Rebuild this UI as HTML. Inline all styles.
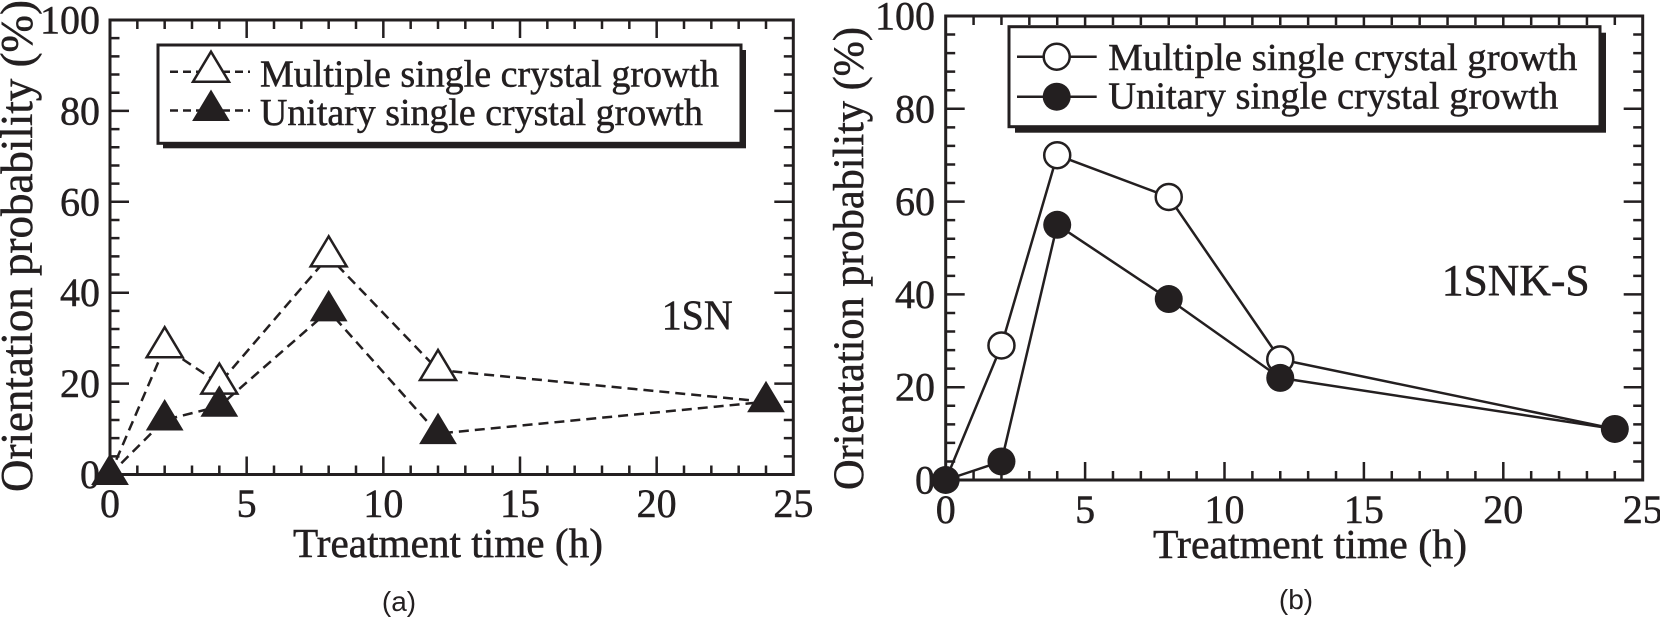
<!DOCTYPE html>
<html>
<head>
<meta charset="utf-8">
<style>
  html,body{margin:0;padding:0;background:#fff;}
  svg{display:block;}
  .serif{font-family:"Liberation Serif","Times New Roman",serif;fill:#231f20;stroke:#231f20;stroke-width:0.5;}
  .sans{font-family:"Liberation Sans",Arial,sans-serif;fill:#231f20;}
</style>
</head>
<body>
<svg width="1660" height="621" viewBox="0 0 1660 621" xmlns="http://www.w3.org/2000/svg">
<defs>
  <polygon id="tri" points="0,-20 -18,10 18,10"/>
</defs>
<rect x="0" y="0" width="1660" height="621" fill="#fff"/>

<!-- ================= LEFT CHART ================= -->
<g stroke="#231f20" fill="none" stroke-width="2.5">
  <path d="
  M137.33 474.5V465.5 M164.67 474.5V465.5 M192 474.5V465.5 M219.33 474.5V465.5 M246.67 474.5V456.5
  M274 474.5V465.5 M301.33 474.5V465.5 M328.67 474.5V465.5 M356 474.5V465.5 M383.33 474.5V456.5
  M410.67 474.5V465.5 M438 474.5V465.5 M465.33 474.5V465.5 M492.67 474.5V465.5 M520 474.5V456.5
  M547.33 474.5V465.5 M574.67 474.5V465.5 M602 474.5V465.5 M629.33 474.5V465.5 M656.67 474.5V456.5
  M684 474.5V465.5 M711.33 474.5V465.5 M738.67 474.5V465.5 M766 474.5V465.5
  M137.33 20V29 M164.67 20V29 M192 20V29 M219.33 20V29 M246.67 20V38
  M274 20V29 M301.33 20V29 M328.67 20V29 M356 20V29 M383.33 20V38
  M410.67 20V29 M438 20V29 M465.33 20V29 M492.67 20V29 M520 20V38
  M547.33 20V29 M574.67 20V29 M602 20V29 M629.33 20V29 M656.67 20V38
  M684 20V29 M711.33 20V29 M738.67 20V29 M766 20V29
  "/>
  <path d="
  M110 456.32H119.5 M110 438.14H119.5 M110 419.96H119.5 M110 401.78H119.5 M110 383.6H129
  M110 365.42H119.5 M110 347.24H119.5 M110 329.06H119.5 M110 310.88H119.5 M110 292.7H129
  M110 274.52H119.5 M110 256.34H119.5 M110 238.16H119.5 M110 219.98H119.5 M110 201.8H129
  M110 183.62H119.5 M110 165.44H119.5 M110 147.26H119.5 M110 129.08H119.5 M110 110.9H129
  M110 92.72H119.5 M110 74.54H119.5 M110 56.36H119.5 M110 38.18H119.5
  M793.3 456.32H783.8 M793.3 438.14H783.8 M793.3 419.96H783.8 M793.3 401.78H783.8 M793.3 383.6H774.3
  M793.3 365.42H783.8 M793.3 347.24H783.8 M793.3 329.06H783.8 M793.3 310.88H783.8 M793.3 292.7H774.3
  M793.3 274.52H783.8 M793.3 256.34H783.8 M793.3 238.16H783.8 M793.3 219.98H783.8 M793.3 201.8H774.3
  M793.3 183.62H783.8 M793.3 165.44H783.8 M793.3 147.26H783.8 M793.3 129.08H783.8 M793.3 110.9H774.3
  M793.3 92.72H783.8 M793.3 74.54H783.8 M793.3 56.36H783.8 M793.3 38.18H783.8
  "/>
  <rect x="110" y="20" width="683.3" height="454.5" stroke-width="3"/>
</g>

<g stroke="#231f20" fill="none" stroke-width="2.5" stroke-dasharray="10,6">
  <polyline points="110,474.5 164.67,347.24 219.33,383.6 328.67,256.34 438,369.97 766,401.78"/>
  <polyline points="110,474.5 164.67,419.96 219.33,406.3 328.67,310.88 438,433.6 766,401.78"/>
</g>
<g fill="#fff" stroke="#231f20" stroke-width="2.5">
  <use href="#tri" x="164.67" y="347.24"/>
  <use href="#tri" x="219.33" y="383.6"/>
  <use href="#tri" x="328.67" y="256.34"/>
  <use href="#tri" x="438" y="369.97"/>
</g>
<g fill="#231f20" stroke="#231f20" stroke-width="1">
  <use href="#tri" x="110" y="474.5"/>
  <use href="#tri" x="164.67" y="419.96"/>
  <use href="#tri" x="219.33" y="406.3"/>
  <use href="#tri" x="328.67" y="310.88"/>
  <use href="#tri" x="438" y="433.6"/>
  <use href="#tri" x="766" y="401.78"/>
</g>

<rect x="163" y="50" width="583" height="98.3" fill="#231f20"/>
<rect x="158" y="45" width="583" height="98.3" fill="#fff" stroke="#231f20" stroke-width="3"/>
<g stroke="#231f20" stroke-width="2.5" stroke-dasharray="8,5" fill="none">
  <path d="M170 71.7H250"/>
  <path d="M170 110.5H250"/>
</g>
<use href="#tri" x="211" y="71.7" fill="#fff" stroke="#231f20" stroke-width="2.5"/>
<use href="#tri" x="211" y="110.5" fill="#231f20" stroke="#231f20" stroke-width="1"/>
<text class="serif" x="260" y="86.7" font-size="38" textLength="459" lengthAdjust="spacingAndGlyphs">Multiple single crystal growth</text>
<text class="serif" x="260" y="124.8" font-size="38" textLength="443" lengthAdjust="spacingAndGlyphs">Unitary single crystal growth</text>

<text class="serif" x="661.7" y="329.5" font-size="42" textLength="71" lengthAdjust="spacingAndGlyphs">1SN</text>
<g class="serif" font-size="40" text-anchor="end">
  <text x="100" y="488">0</text>
  <text x="100" y="397.1">20</text>
  <text x="100" y="306.2">40</text>
  <text x="100" y="215.3">60</text>
  <text x="100" y="124.4">80</text>
  <text x="100" y="33.5">100</text>
</g>
<g class="serif" font-size="40" text-anchor="middle">
  <text x="110" y="517">0</text>
  <text x="246.67" y="517">5</text>
  <text x="383.33" y="517">10</text>
  <text x="520" y="517">15</text>
  <text x="656.67" y="517">20</text>
  <text x="793.33" y="517">25</text>
</g>
<text class="serif" x="448" y="557" font-size="41" text-anchor="middle" textLength="310" lengthAdjust="spacingAndGlyphs">Treatment time (h)</text>
<text class="serif" transform="translate(32,246) rotate(-90)" x="0" y="0" font-size="45" text-anchor="middle" textLength="492" lengthAdjust="spacingAndGlyphs">Orientation probability (%)</text>
<text class="sans" x="399" y="611" font-size="28" text-anchor="middle">(a)</text>

<!-- ================= RIGHT CHART ================= -->
<g stroke="#231f20" fill="none" stroke-width="2.5">
  <path d="
  M973.58 480V471 M1001.46 480V471 M1029.34 480V471 M1057.22 480V471 M1085.1 480V462
  M1112.98 480V471 M1140.86 480V471 M1168.74 480V471 M1196.62 480V471 M1224.5 480V462
  M1252.38 480V471 M1280.26 480V471 M1308.14 480V471 M1336.02 480V471 M1363.9 480V462
  M1391.78 480V471 M1419.66 480V471 M1447.54 480V471 M1475.42 480V471 M1503.3 480V462
  M1531.18 480V471 M1559.06 480V471 M1586.94 480V471 M1614.82 480V471
  M973.58 16V25 M1001.46 16V25 M1029.34 16V25 M1057.22 16V25 M1085.1 16V34
  M1112.98 16V25 M1140.86 16V25 M1168.74 16V25 M1196.62 16V25 M1224.5 16V34
  M1252.38 16V25 M1280.26 16V25 M1308.14 16V25 M1336.02 16V25 M1363.9 16V34
  M1391.78 16V25 M1419.66 16V25 M1447.54 16V25 M1475.42 16V25 M1503.3 16V34
  M1531.18 16V25 M1559.06 16V25 M1586.94 16V25 M1614.82 16V25
  "/>
  <path d="
  M945.7 461.44H955.2 M945.7 442.88H955.2 M945.7 424.32H955.2 M945.7 405.76H955.2 M945.7 387.2H964.7
  M945.7 368.64H955.2 M945.7 350.08H955.2 M945.7 331.52H955.2 M945.7 312.96H955.2 M945.7 294.4H964.7
  M945.7 275.84H955.2 M945.7 257.28H955.2 M945.7 238.72H955.2 M945.7 220.16H955.2 M945.7 201.6H964.7
  M945.7 183.04H955.2 M945.7 164.48H955.2 M945.7 145.92H955.2 M945.7 127.36H955.2 M945.7 108.8H964.7
  M945.7 90.24H955.2 M945.7 71.68H955.2 M945.7 53.12H955.2 M945.7 34.56H955.2
  M1642.7 461.44H1633.2 M1642.7 442.88H1633.2 M1642.7 424.32H1633.2 M1642.7 405.76H1633.2 M1642.7 387.2H1623.7
  M1642.7 368.64H1633.2 M1642.7 350.08H1633.2 M1642.7 331.52H1633.2 M1642.7 312.96H1633.2 M1642.7 294.4H1623.7
  M1642.7 275.84H1633.2 M1642.7 257.28H1633.2 M1642.7 238.72H1633.2 M1642.7 220.16H1633.2 M1642.7 201.6H1623.7
  M1642.7 183.04H1633.2 M1642.7 164.48H1633.2 M1642.7 145.92H1633.2 M1642.7 127.36H1633.2 M1642.7 108.8H1623.7
  M1642.7 90.24H1633.2 M1642.7 71.68H1633.2 M1642.7 53.12H1633.2 M1642.7 34.56H1633.2
  "/>
  <rect x="945.7" y="16" width="697" height="464" stroke-width="3"/>
</g>

<g stroke="#231f20" fill="none" stroke-width="2.5">
  <polyline points="945.7,480 1001.46,345.44 1057.22,155.2 1168.74,196.96 1280.26,359.36 1614.82,428.96"/>
  <polyline points="945.7,480 1001.46,461.44 1057.22,224.8 1168.74,299.04 1280.26,377.92 1614.82,428.96"/>
</g>
<g fill="#fff" stroke="#231f20" stroke-width="2.5">
  <circle cx="1001.46" cy="345.44" r="13"/>
  <circle cx="1057.22" cy="155.2" r="13"/>
  <circle cx="1168.74" cy="196.96" r="13"/>
  <circle cx="1280.26" cy="359.36" r="13"/>
</g>
<g fill="#231f20">
  <circle cx="945.7" cy="480" r="14"/>
  <circle cx="1001.46" cy="461.44" r="14"/>
  <circle cx="1057.22" cy="224.8" r="14"/>
  <circle cx="1168.74" cy="299.04" r="14"/>
  <circle cx="1280.26" cy="377.92" r="14"/>
  <circle cx="1614.82" cy="428.96" r="14"/>
</g>

<rect x="1015" y="32.7" width="591" height="100" fill="#231f20"/>
<rect x="1009" y="26.7" width="591" height="100" fill="#fff" stroke="#231f20" stroke-width="3"/>
<g stroke="#231f20" stroke-width="2.5" fill="none">
  <path d="M1017 56.7H1096.7"/>
  <path d="M1017 96.7H1096.7"/>
</g>
<circle cx="1056.7" cy="56.7" r="13" fill="#fff" stroke="#231f20" stroke-width="2.5"/>
<circle cx="1056.7" cy="96.7" r="14" fill="#231f20"/>
<text class="serif" x="1108.3" y="70" font-size="38" textLength="469" lengthAdjust="spacingAndGlyphs">Multiple single crystal growth</text>
<text class="serif" x="1108.3" y="108.3" font-size="38" textLength="450" lengthAdjust="spacingAndGlyphs">Unitary single crystal growth</text>

<text class="serif" x="1441.7" y="295" font-size="44" textLength="148" lengthAdjust="spacingAndGlyphs">1SNK-S</text>
<g class="serif" font-size="40" text-anchor="end">
  <text x="935" y="493.5">0</text>
  <text x="935" y="400.7">20</text>
  <text x="935" y="307.9">40</text>
  <text x="935" y="215.1">60</text>
  <text x="935" y="122.3">80</text>
  <text x="935" y="29.5">100</text>
</g>
<g class="serif" font-size="40" text-anchor="middle">
  <text x="945.7" y="523">0</text>
  <text x="1085.1" y="523">5</text>
  <text x="1224.5" y="523">10</text>
  <text x="1363.9" y="523">15</text>
  <text x="1503.3" y="523">20</text>
  <text x="1642.7" y="523">25</text>
</g>
<text class="serif" x="1310" y="558" font-size="41" text-anchor="middle" textLength="314" lengthAdjust="spacingAndGlyphs">Treatment time (h)</text>
<text class="serif" transform="translate(863,258.5) rotate(-90)" x="0" y="0" font-size="43" text-anchor="middle" textLength="463" lengthAdjust="spacingAndGlyphs">Orientation probability (%)</text>
<text class="sans" x="1296" y="609" font-size="28" text-anchor="middle">(b)</text>
</svg>
</body>
</html>
